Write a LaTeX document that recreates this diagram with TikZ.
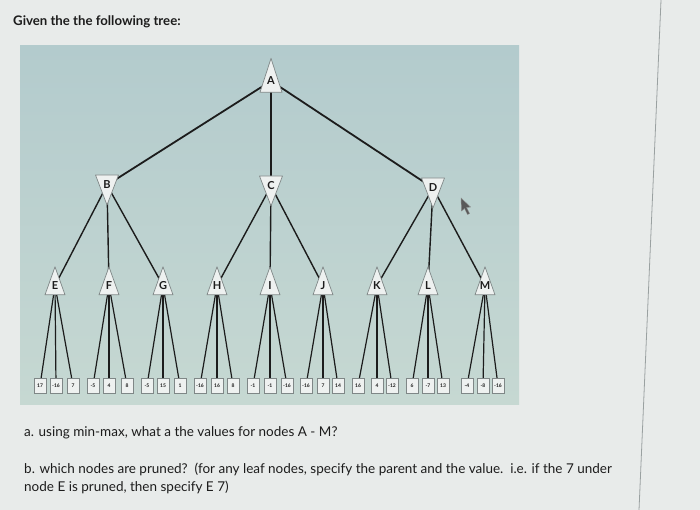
\documentclass[tikz,border=0pt]{standalone}
\usepackage{fontspec}
\setmainfont{Lato}
\usetikzlibrary{calc}
\pgfdeclarelayer{panel}
\pgfdeclarelayer{edges}
\pgfdeclarelayer{tri}
\pgfsetlayers{panel,edges,tri,main}
\definecolor{pagebg}{HTML}{E8EBEA}
\definecolor{paneltop}{HTML}{B3CBCD}
\definecolor{panelbot}{HTML}{C6D8D2}
\definecolor{trifill}{HTML}{EEF1F0}
\definecolor{triline}{HTML}{7F8787}
\definecolor{ink}{HTML}{1C1C1C}
\definecolor{frame}{HTML}{9AA1A1}
\newcommand\uptri[3]{\filldraw[tri] ($(#1)+(0,{-2*#3/3})$) -- ($(#1)+({-#2/2},{#3/3})$) -- ($(#1)+({#2/2},{#3/3})$) -- cycle;}
\newcommand\dntri[3]{\filldraw[tri] ($(#1)+(0,{2*#3/3})$) -- ($(#1)+({-#2/2},{-#3/3})$) -- ($(#1)+({#2/2},{-#3/3})$) -- cycle;}
\begin{document}
\begin{tikzpicture}[x=1pt,y=-1pt,
 lbl/.style={inner sep=0pt, font=\fontsize{11}{11}\selectfont\bfseries, text=ink},
 leaf/.style={draw=triline, fill=trifill, line width=0.7pt, minimum width=12pt, minimum height=15pt, inner sep=0pt, font=\fontsize{5}{5}\selectfont\bfseries, text=ink},
 edge/.style={draw=ink, line width=1.8pt},
 twig/.style={draw=ink, line width=1.4pt},
 tri/.style={fill=trifill, draw=triline, line width=0.7pt, line join=round},
 txt/.style={anchor=west, inner sep=0pt, font=\fontsize{13.5}{15}\selectfont, text=ink}]
\useasboundingbox (0,0) rectangle (700,510);
\begin{pgfonlayer}{panel}
 \fill[pagebg] (0,0) rectangle (700,510);
 \draw[frame, line width=0.8pt] (661,0) -- (639,510);
 \shade[top color=paneltop, bottom color=panelbot] (20,46) rectangle (519,404);
\end{pgfonlayer}
% title and questions
\node[txt, font=\fontsize{13.2}{15}\selectfont\bfseries] (title) at (13,22) {Given the the following tree:};
\node[txt] (qa) at (24,433) {a. using min-max, what a the values for nodes A - M?};
\node[txt] (qb) at (24,469) {b. which nodes are pruned?\ \ (for any leaf nodes, specify the parent and the value.\ \ i.e. if the 7 under};
\node[txt] (qc) at (24,487) {node E is pruned, then specify E 7)};
% internal nodes (at triangle centroids)
\node[lbl] (A) at (271,81) {A};
\node[lbl] (B) at (107,185) {B};
\node[lbl] (C) at (271,186) {C};
\node[lbl] (D) at (433,188) {D};
\foreach \n/\x in {E/55,F/109,G/163,H/217,I/270,J/323,K/377,L/428,M/485}
  \node[lbl] (\n) at (\x,285.5) {\n};
% leaves
\foreach \p/\i/\x/\v in {
 E/1/40/17, E/2/56/-16, E/3/73/7,
 F/1/93/-5, F/2/109/4, F/3/127/8,
 G/1/147/-5, G/2/163/15, G/3/180/1,
 H/1/200/-16, H/2/217/16, H/3/233/8,
 I/1/253/-1, I/2/270/-1, I/3/287/-16,
 J/1/306/-16, J/2/323/7, J/3/338/14,
 K/1/358/16, K/2/377/4, K/3/392/-12,
 L/1/412/6, L/2/428/-7, L/3/443/13,
 M/1/467/-4, M/2/483/-8, M/3/498/-16}
 \node[leaf] (\p\i) at (\x,385.5) {\v};
% connectors
\begin{pgfonlayer}{edges}
 \foreach \c in {B,C,D} \draw[edge] (A.center) -- (\c.center);
 \foreach \c in {E,F,G} \draw[twig] (B.center) -- (\c.center);
 \foreach \c in {H,I,J} \draw[twig] (C.center) -- (\c.center);
 \foreach \c in {K,L,M} \draw[twig] (D.center) -- (\c.center);
 \foreach \p in {E,F,G,H,I,J,K,L,M}
  \foreach \i in {1,2,3}
   \draw[twig, line width=1.2pt] (\p.center) -- (\p\i.center);
\end{pgfonlayer}
% triangles
\begin{pgfonlayer}{tri}
 \uptri{A}{22}{34}
 \dntri{B}{23}{30}
 \dntri{C}{23}{30}
 \dntri{D}{23}{30}
 \foreach \n in {E,F,G,H,I,J,K,L,M} {\uptri{\n}{20}{28}}
\end{pgfonlayer}
% mouse pointer
\filldraw[fill=black!65, draw=black!45, line width=0.4pt] (461,198) -- (461.5,211) -- (464.5,208.5) -- (467.5,214.5) -- (469.5,213.5) -- (466.5,207.5) -- (470.5,207) -- cycle;
\end{tikzpicture}
\end{document}
